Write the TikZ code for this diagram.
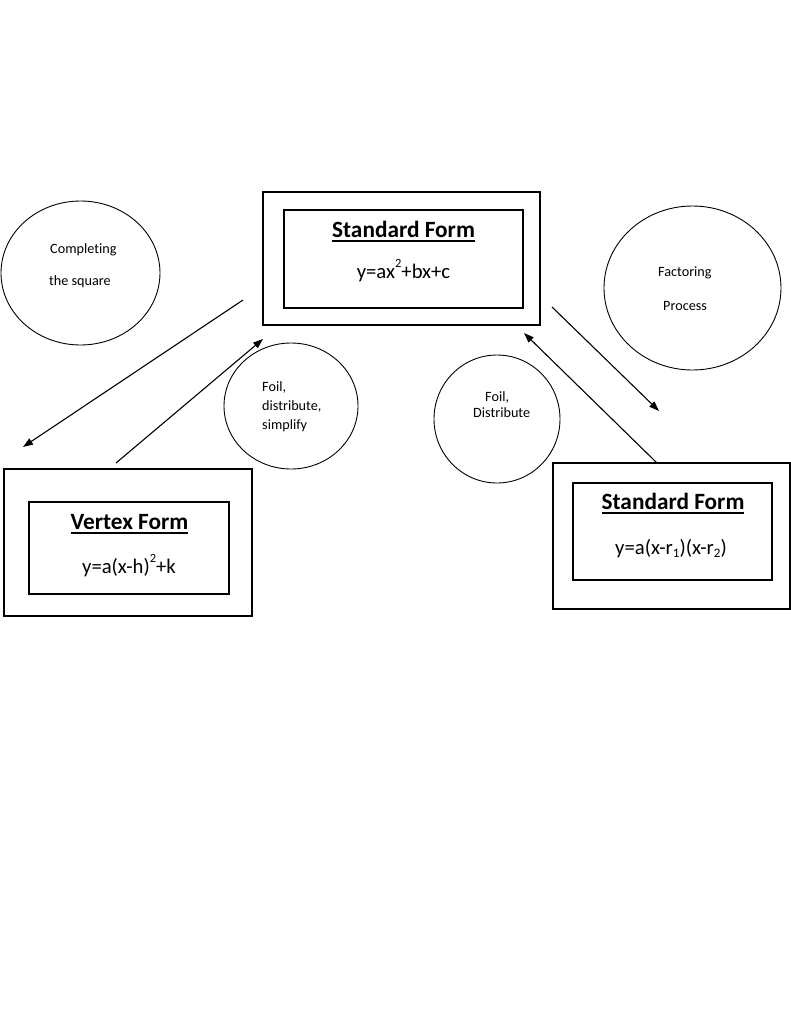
\documentclass[tikz,border=0pt]{standalone}
\usepackage{fontspec}
\setmainfont{Carlito}[Ligatures=NoCommon]
\usetikzlibrary{shapes.geometric,arrows.meta}
\newcommand\myul[1]{\setbox0\hbox{#1}\rlap{\rule[-5pt]{\wd0}{2pt}}\box0}
\newcommand\mysup[1]{\raisebox{10.5pt}{\fontsize{12.5}{12}\selectfont #1}}
\newcommand\mysub[1]{\raisebox{-3pt}{\fontsize{13}{13}\selectfont #1}}
\tikzset{
  outerbox/.style={draw, line width=1.2pt, rectangle, inner sep=0pt},
  innerbox/.style={draw, line width=1.2pt, rectangle, inner sep=0pt},
  bubble/.style={draw, line width=0.9pt, ellipse, inner sep=0pt},
  title/.style={anchor=base, inner sep=0pt, font=\fontsize{23.3}{26}\selectfont\bfseries},
  formula/.style={anchor=base, inner sep=0pt, font=\fontsize{20.7}{24}\selectfont},
  small/.style={anchor=base west, inner sep=0pt, font=\fontsize{14.2}{16}\selectfont},
  conn/.style={line width=1.1pt, -{Triangle[length=10pt,width=7pt]}}
}
\begin{document}
\begin{tikzpicture}[x=1pt,y=-1pt]
\useasboundingbox (0,0) rectangle (791,1023);
% top standard form
\node[outerbox, minimum width=277pt, minimum height=133pt] (topout) at (401.5,258.5) {};
\node[innerbox, minimum width=239pt, minimum height=98pt] (topin) at (403.5,259) {};
\node[title] (toptitle) at (403.5,237) {\myul{Standard Form}};
\node[formula] (topform) at (403.5,278) {y=ax\mysup{2}+bx+c};
% vertex form
\node[outerbox, minimum width=248pt, minimum height=147pt] (vout) at (128,542.5) {};
\node[innerbox, minimum width=200pt, minimum height=92pt] (vin) at (129,548) {};
\node[title] (vtitle) at (129.5,529) {\myul{Vertex Form}};
\node[formula] (vform) at (129,573) {y=a(x-h)\mysup{2}+k};
% factored form
\node[outerbox, minimum width=237pt, minimum height=146pt] (rout) at (671.5,536) {};
\node[innerbox, minimum width=199pt, minimum height=97pt] (rin) at (672.5,531.5) {};
\node[title] (rtitle) at (673,509) {\myul{Standard Form}};
\node[formula] (rform) at (671,554) {y=a(x-r\mysub{1})(x-r\mysub{2})};
% bubbles
\node[bubble, minimum width=159pt, minimum height=144pt] (cts) at (80.5,273) {};
\node[small] (cts1) at (50,253) {Completing};
\node[small] (cts2) at (49,285) {the square};
\node[bubble, minimum width=177pt, minimum height=164pt] (fac) at (692.5,288) {};
\node[small] (fac1) at (658,276) {Factoring};
\node[small] (fac2) at (663,310) {Process};
\node[bubble, minimum width=134pt, minimum height=126pt] (fds) at (291,406) {};
\node[small] (fds1) at (262,391) {Foil,};
\node[small] (fds2) at (262,410) {distribute,};
\node[small] (fds3) at (262,429) {simplify};
\node[bubble, minimum width=126pt, minimum height=128pt] (fd) at (497,419) {};
\node[small] (fd1) at (485,401) {Foil,};
\node[small] (fd2) at (473,417) {Distribute};
% arrows
\coordinate (a1s) at (243,300); \coordinate (a1e) at (23,447);
\coordinate (a2s) at (116,463); \coordinate (a2e) at (263,339);
\coordinate (a3s) at (552,307); \coordinate (a3e) at (659,411);
\coordinate (a4s) at (657,463); \coordinate (a4e) at (524,333);
\draw[conn] (a1s) -- (a1e);
\draw[conn] (a2s) -- (a2e);
\draw[conn] (a3s) -- (a3e);
\draw[conn] (a4s) -- (a4e);
\end{tikzpicture}
\end{document}
